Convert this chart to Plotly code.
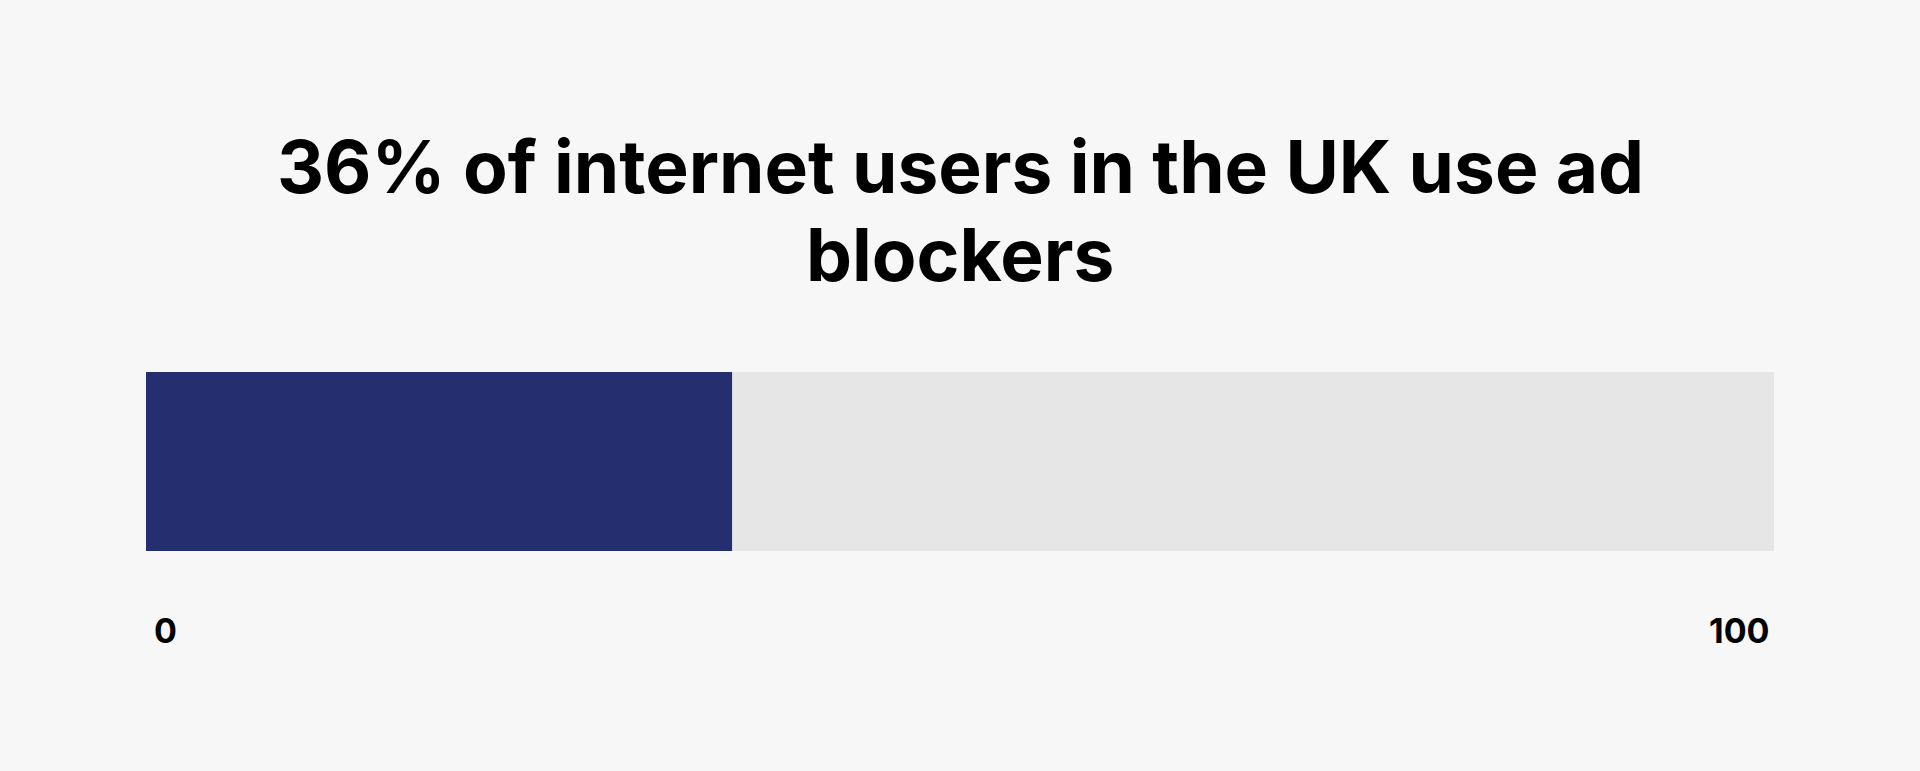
import plotly.graph_objects as go

# data
title_lines = ["36% of internet users in the UK use ad", "blockers"]
category = ["UK"]
share_value = [36]
scale_max = [100]
tick_values = [0, 100]
tick_labels = ["0", "100"]

navy = "#252f6f"
light_grey = "#e6e6e6"
bg = "#f7f7f7"

fig = go.Figure()

# full scale bar behind, share bar on top
fig.add_trace(go.Bar(
    x=scale_max, y=category, orientation="h",
    marker=dict(color=light_grey, line=dict(width=0)),
    width=1, hoverinfo="skip", showlegend=False
))
fig.add_trace(go.Bar(
    x=share_value, y=category, orientation="h",
    marker=dict(color=navy, line=dict(width=0)),
    width=1, showlegend=False
))

fig.update_layout(
    width=1920, height=771,
    barmode="overlay",
    paper_bgcolor=bg, plot_bgcolor=bg,
    margin=dict(l=146, r=146, t=372, b=220),
    font=dict(family="Inter", color="#000000"),
)
fig.update_xaxes(range=[0, 100], visible=False, fixedrange=True)
fig.update_yaxes(range=[-0.5, 0.5], visible=False, fixedrange=True)

# title, one annotation per line to keep the tight line spacing
title_shifts = [206, 118]
for line, shift in zip(title_lines, title_shifts):
    fig.add_annotation(
        text=line, xref="paper", yref="paper", x=0.5, y=1,
        xanchor="center", yanchor="middle", yshift=shift,
        showarrow=False,
        font=dict(family="Inter", size=73, weight=700, color="#000000"),
    )

# end labels of the scale
anchors = ["left", "right"]
xshifts = [6, -2]
for val, lab, anc, xs in zip(tick_values, tick_labels, anchors, xshifts):
    fig.add_annotation(
        text=lab, xref="x", yref="paper", x=val, y=0,
        xanchor=anc, yanchor="middle", xshift=xs, yshift=-79,
        showarrow=False,
        font=dict(family="Inter", size=34, weight=700, color="#000000"),
    )

# no page margin around the figure, no modebar
fig.write_html(
    "out.html",
    config={"displayModeBar": False},
    post_script="document.body.style.margin='0';",
)
